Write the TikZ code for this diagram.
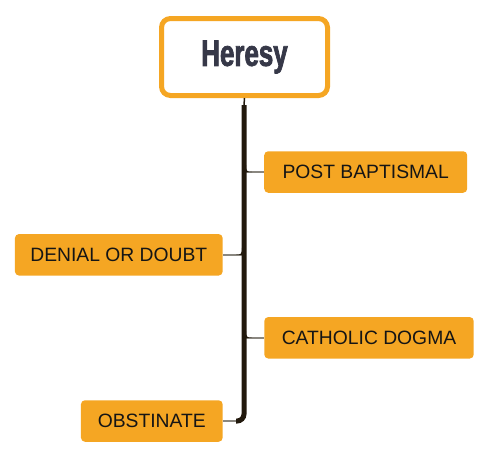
\documentclass[tikz,border=0pt]{standalone}
\usepackage{fontspec}
\setmainfont{Liberation Sans}
\newfontfamily\rootfont[FakeStretch=0.70,FakeBold=2]{Liberation Sans Bold}
\usetikzlibrary{calc}
\definecolor{orng}{HTML}{F5A623}
\definecolor{trunkc}{HTML}{22190D}
\definecolor{greyc}{HTML}{8A8780}
\definecolor{txtc}{HTML}{151515}
\definecolor{rootc}{HTML}{363848}
\tikzset{
  rootbox/.style={draw=orng, line width=5pt, fill=white, rounded corners=9pt,
    minimum width=166pt, minimum height=77pt, inner sep=0pt,
    font=\rootfont\fontsize{37}{40}\selectfont, text=rootc},
  childbox/.style={fill=orng, rounded corners=4pt, minimum height=41.5pt, inner sep=0pt,
    font=\fontsize{19.3}{21}\selectfont, text=txtc},
  trunkline/.style={draw=trunkc, line width=5pt},
  thinline/.style={draw=trunkc, line width=1.5pt},
  branch/.style={draw=greyc, line width=1.6pt},
  fillet/.style={fill=trunkc}
}
\begin{document}
\begin{tikzpicture}[x=1pt,y=-1pt]
\useasboundingbox (0,0) rectangle (490,458);
\node[rootbox] (root) at (244.5,57) {Heresy};
\node[childbox, minimum width=203pt] (post) at (365.7,172) {POST BAPTISMAL};
\node[childbox, minimum width=207.7pt] (denial) at (118.8,254.8) {DENIAL OR DOUBT};
\node[childbox, minimum width=209.4pt] (cath) at (369,337.8) {CATHOLIC DOGMA};
\node[childbox, minimum width=141.7pt] (obst) at (151.8,421) {OBSTINATE};
\coordinate (tTop) at (244,105);
\coordinate (tEnd) at (236,421);
\coordinate (jPost) at (244,172);
\coordinate (jDen) at (244,254.8);
\coordinate (jCath) at (244,337.8);
% thin stem
\draw[thinline] (root.south) -- (tTop);
% branches (grey)
\draw[branch] (jPost) -- (post.west);
\draw[branch] (jDen) -- (denial.east);
\draw[branch] (jCath) -- (cath.west);
\draw[branch] (tEnd) -- (obst.east);
% trunk
\draw[trunkline, rounded corners=7pt] (tTop) -- (244,421) -- (tEnd);
% fillets
\fill[fillet] ($(jPost)+(2,-7)$) .. controls ($(jPost)+(2,-1)$) and ($(jPost)+(3,0)$) .. ($(jPost)+(8,0)$) -- ($(jPost)+(2,0)$) -- cycle;
\fill[fillet] ($(jCath)+(2,-7)$) .. controls ($(jCath)+(2,-1)$) and ($(jCath)+(3,0)$) .. ($(jCath)+(8,0)$) -- ($(jCath)+(2,0)$) -- cycle;
\fill[fillet] ($(jDen)+(-2,-7)$) .. controls ($(jDen)+(-2,-1)$) and ($(jDen)+(-3,0)$) .. ($(jDen)+(-8,0)$) -- ($(jDen)+(-2,0)$) -- cycle;
\end{tikzpicture}
\end{document}
